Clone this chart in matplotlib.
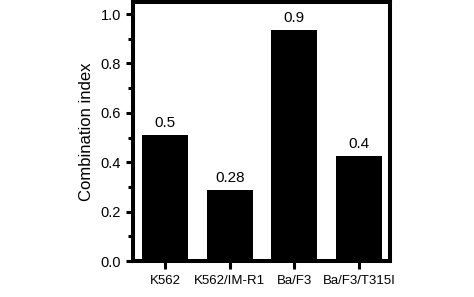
import numpy as np
import matplotlib
matplotlib.use('Agg')
import matplotlib.pyplot as plt
from matplotlib.ticker import MultipleLocator

cells = ['K562', 'K562/IM-R1', 'Ba/F3', 'Ba/F3/T315I']
ci = [0.51, 0.288, 0.936, 0.427]
labels = ['0.5', '0.28', '0.9', '0.4']
yticks = [0.0, 0.2, 0.4, 0.6, 0.8, 1.0]

plt.rcParams['font.family'] = ['Liberation Sans', 'DejaVu Sans']

fig = plt.figure(figsize=(4.74, 2.97), dpi=100)
ax = fig.add_axes([0.280, 0.1212, 0.5428, 0.8737])

x = np.arange(len(cells))
bars = ax.bar(x, ci, width=0.71, color='black')
for b, t in zip(bars, labels):
    ax.text(b.get_x() + b.get_width() / 2, b.get_height() + 0.02, t,
            ha='center', va='bottom', fontsize=11)

ax.set_xlim(-0.5, 3.48)
ax.set_ylim(0, 1.051)
ax.set_xticks(x)
ax.set_xticklabels(cells, fontsize=9.5)
ax.set_yticks(yticks)
ax.set_yticklabels(['%.1f' % v for v in yticks], fontsize=10.5)
ax.yaxis.set_minor_locator(MultipleLocator(0.1))
ax.set_ylabel('Combination index', fontsize=12, labelpad=5)

for s in ax.spines.values():
    s.set_linewidth(2.9)
ax.tick_params(axis='both', which='major', direction='out', length=5.4, width=2.2, pad=3)
ax.tick_params(axis='x', which='major', pad=5)
ax.tick_params(axis='y', which='minor', direction='out', length=3.4, width=2.2)

fig.savefig('out.png', dpi=100)
